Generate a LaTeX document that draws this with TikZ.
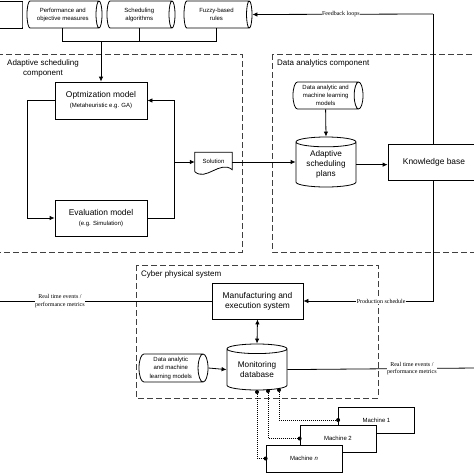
\documentclass[tikz,border=0pt]{standalone}
\usepackage{fontspec}
\setmainfont{Liberation Sans}
\newfontfamily\notefont{Liberation Serif}
\usetikzlibrary{shapes.geometric, arrows.meta}
\tikzset{box/.style={draw, fill=white, line width=0.8pt, inner sep=0pt, align=center, font=\fontsize{8.4}{10}\selectfont}}
\tikzset{drum/.style={cylinder, shape border rotate=90, shape aspect=0.25, draw, fill=white, line width=0.8pt, inner sep=0pt, align=center, anchor=shape center, font=\fontsize{8.2}{10}\selectfont}}
\tikzset{pipe/.style={cylinder, shape aspect=0.44, draw, fill=white, line width=0.8pt, inner sep=0pt, align=center, anchor=shape center, font=\fontsize{6}{8}\selectfont}}
\tikzset{zone/.style={draw=black!75, line width=1pt, dash pattern=on 6pt off 3pt}}
\tikzset{zonelabel/.style={inner sep=0pt, align=center, font=\fontsize{8}{10.5}\selectfont}}
\tikzset{flow/.style={line width=0.8pt, -{Latex[length=5pt, width=4.5pt]}}}
\tikzset{link/.style={line width=0.8pt}}
\tikzset{probe/.style={line width=1pt, densely dotted}}
\tikzset{note/.style={fill=white, inner sep=0.6pt, align=center, font=\notefont\fontsize{6}{7.5}\selectfont}}
\tikzset{dot/.style={circle, fill=black, inner sep=0pt, minimum size=4pt}}
\tikzset{small/.style={font=\fontsize{6}{7}\selectfont}}

\begin{document}
\begin{tikzpicture}[x=1pt, y=-1pt]
    \useasboundingbox (0,0) rectangle (474,474);
    \clip (0,0) rectangle (474,474);

    % inputs of the scheduler
    \node[pipe, minimum height=84pt, minimum width=27pt] (history) at (-20,14.5) {};
    \node[pipe, minimum height=75pt, minimum width=27pt] (perf) at (64.5,14.5) {Performance and\\objective measures};
    \node[pipe, minimum height=68pt, minimum width=27pt] (algo) at (141,14.5) {Scheduling\\algorithms};
    \node[pipe, minimum height=68pt, minimum width=27pt] (fuzzy) at (218,14.5) {Fuzzy-based\\rules};

    % the three components
    \draw[zone] (-5,54) rectangle (242,252);
    \node[zonelabel] (asclabel) at (43,68.5) {Adaptive scheduling\\component};
    \draw[zone] (272,54) rectangle (480,252);
    \node[zonelabel, anchor=west] (dalabel) at (277,63.5) {Data analytics component};
    \draw[zone] (136,265) rectangle (378,398);
    \node[zonelabel, anchor=west] (cpslabel) at (141,274.5) {Cyber physical system};

    \node[box, minimum width=92pt, minimum height=37pt] (opt) at (101,100.5) {Optmization model\\{\fontsize{6}{8}\selectfont (Metaheuristic e.g. GA)}};
    \node[box, minimum width=92pt, minimum height=36pt] (eval) at (101,218) {Evaluation model\\{\fontsize{6}{8}\selectfont (e.g. Simulation)}};
    \node[minimum width=37pt, minimum height=19pt, inner sep=0pt] (sol) at (213.5,162) {};
    \draw[link, fill=white] (sol.south west) -- (sol.north west) -- (sol.north east) -- ([yshift=2pt]sol.south east)
        .. controls ([xshift=-12pt, yshift=12pt]sol.south east) and ([xshift=11pt, yshift=-10pt]sol.south west) .. (sol.south west);
    \node[small] (soltext) at ([yshift=1pt]sol.center) {Solution};

    \node[pipe, minimum height=70pt, minimum width=27pt, font=\fontsize{6}{7.8}\selectfont] (dasrc) at (328,95.5) {Data analytic and\\machine learning\\models};
    \node[drum, minimum width=60pt, minimum height=50pt] (plans) at (326,162) {Adaptive\\scheduling\\plans};

    \node[box, minimum width=91pt, minimum height=36pt] (mes) at (257.5,301) {Manufacturing and\\execution system};
    \node[drum, minimum width=60pt, minimum height=46pt] (db) at (257,367) {Monitoring\\database};
    \node[pipe, minimum height=69pt, minimum width=28pt, font=\fontsize{6}{8.5}\selectfont] (dacps) at (173.5,368) {Data analytic\\and machine\\learning models};

    \node[box, small, minimum width=76pt, minimum height=26pt] (m1) at (376.5,420) {Machine 1};
    \node[box, small, minimum width=76pt, minimum height=27pt] (m2) at (338,438.5) {Machine 2};
    \node[box, small, minimum width=76pt, minimum height=27pt] (mn) at (304,458.5) {Machine \textit{n}};

    % scheduler wiring
    \draw[link] (perf.south) -- (perf.south |- 0,41) -- (fuzzy.south |- 0,41) -- (fuzzy.south);
    \draw[link] (algo.south) -- (algo.south |- 0,41);
    \draw[flow] (opt.north |- 0,41) -- (opt.north);
    \draw[flow] (opt.west) -- ++(-27,0) |- (eval.west);
    \draw[flow] (eval.east) -- ++(27,0) |- (opt.east);
    \coordinate (fork) at (174,162);
    \draw[flow] (fork) -- (sol.west);
    \draw[flow] (sol.east) -- (sol.east -| plans.west);
    \draw[flow] (dasrc.south) -- (plans.north);

    % feedback to the inputs and the shop floor
    \coordinate (fbturn) at (433,14);
    \draw[flow] (fbturn) -- node[note, pos=0.51] {Feedback loops} (fuzzy.east);
    \draw[flow] (fbturn) |- node[note, pos=0.7] {Production schedule} (mes.east);
    \node[box, minimum width=92pt, minimum height=36pt] (kb) at (434,162) {Knowledge base};
    \draw[flow] (plans.east) -- (plans.east -| kb.west);

    % cyber physical system
    \coordinate (rtin) at (-2,301);
    \draw[link] (rtin) -- node[note, pos=0.29] {Real time events /\\performance metrics} (mes.west);
    \draw[{Latex[length=5pt, width=4.5pt]}-{Latex[length=5pt, width=4.5pt]}, line width=0.8pt] (mes.south) -- (db.north);
    \draw[flow] (dacps.east) -- (db.west);
    \coordinate (rtout) at (476,368);
    \draw[link] (db.east) -- node[note, pos=0.66] {Real time events /\\performance metrics} (rtout);

    \node[dot] (pn) at (257,392) {};
    \node[dot] (p2) at (268,391) {};
    \node[dot] (p1) at (279,390) {};
    \draw[probe] (p1) |- (m1.west);
    \draw[probe] (p2) |- (m2.west);
    \draw[probe] (pn) |- (mn.west);
    \node[dot] (q1) at (m1.west) {};
    \node[dot] (q2) at (m2.west) {};
    \node[dot] (qn) at (mn.west) {};
\end{tikzpicture}
\end{document}
